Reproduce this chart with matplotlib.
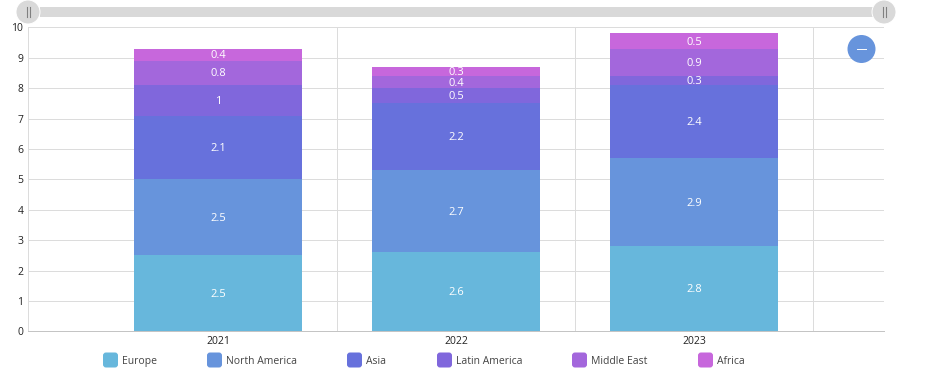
import matplotlib
matplotlib.use('Agg')
import matplotlib.pyplot as plt
from matplotlib.patches import Circle, FancyBboxPatch, Rectangle

plt.rcParams['font.family'] = ['Open Sans', 'DejaVu Sans']

years = ['2021', '2022', '2023']
regions = ['Europe', 'North America', 'Asia', 'Latin America', 'Middle East', 'Africa']
europe = [2.5, 2.6, 2.8]
north_america = [2.5, 2.7, 2.9]
asia = [2.1, 2.2, 2.4]
latin_america = [1, 0.5, 0.3]
middle_east = [0.8, 0.4, 0.9]
africa = [0.4, 0.3, 0.5]
colors = ['#67b7dc', '#6794dc', '#6771dc', '#8067dc', '#a367dc', '#c767dc']
yticks = list(range(0, 11))

W, H = 935, 390
fig = plt.figure(figsize=(W / 100, H / 100), dpi=100)

# plot area in pixels: x 27.5-884, y 27.4-331.4
ax = fig.add_axes([27.5 / W, 1 - 331.4 / H, (884 - 27.5) / W, 304 / H])
ax.set_xlim(-0.8, 2.798)
ax.set_ylim(0, 10)

ax.set_axisbelow(True)
ax.set_yticks(yticks)
ax.set_xticks(range(len(years)), years)
ax.set_xticks([0.5, 1.5, 2.5], minor=True)
ax.grid(axis='y', color='#dcdcdc', lw=0.72)
ax.grid(axis='x', which='minor', color='#dcdcdc', lw=0.72)
ax.tick_params(axis='both', which='both', length=0, labelsize=7.5, labelcolor='#222222')
ax.tick_params(axis='x', pad=3)
ax.tick_params(axis='y', pad=3)
for side in ['top', 'right']:
    ax.spines[side].set_visible(False)
ax.spines['left'].set_color('#dcdcdc')
ax.spines['left'].set_linewidth(0.72)
ax.spines['bottom'].set_color('#c4c4c4')
ax.spines['bottom'].set_linewidth(0.72)

# stacked bars
series = [europe, north_america, asia, latin_america, middle_east, africa]
bottom = [0, 0, 0]
for vals, c in zip(series, colors):
    bars = ax.bar(range(len(years)), vals, 0.706, bottom=bottom, color=c, edgecolor='none', zorder=2)
    for rect, v in zip(bars, vals):
        ax.annotate(str(v), (rect.get_x() + rect.get_width() / 2, rect.get_y() + v / 2),
                    xytext=(0, -0.7), textcoords='offset points', ha='center', va='center',
                    color='white', fontsize=8, fontweight='medium', zorder=3)
    bottom = [b + v for b, v in zip(bottom, vals)]

# overlay in pixel coords for scrollbar, button and legend
ov = fig.add_axes([0, 0, 1, 1], facecolor='none')
ov.set_xlim(0, W)
ov.set_ylim(H, 0)
ov.axis('off')

ov.add_patch(Rectangle((40, 7), 833, 10, color='#d9d9d9', lw=0))
for cx in [28, 884]:
    ov.add_patch(Circle((cx, 12), 12, facecolor='#d9d9d9', edgecolor='white', lw=0.7))
    ov.plot([cx - 1.5, cx - 1.5], [7, 17], color='#808080', lw=0.8)
    ov.plot([cx + 1.5, cx + 1.5], [7, 17], color='#808080', lw=0.8)

ov.add_patch(Circle((861.5, 49), 14, color='#6794dc', lw=0))
ov.plot([857, 866], [49, 49], color='white', lw=0.7)

swatch_x = [103, 207, 347, 437, 572, 698]
for x, name, c in zip(swatch_x, regions, colors):
    ov.add_patch(FancyBboxPatch((x + 3, 355.5), 9, 9, boxstyle='round,pad=3', color=c, lw=0))
    ov.text(x + 19, 360, name, va='center_baseline', ha='left', fontsize=7.5, color='#444444')

fig.savefig('out.png', dpi=100)
